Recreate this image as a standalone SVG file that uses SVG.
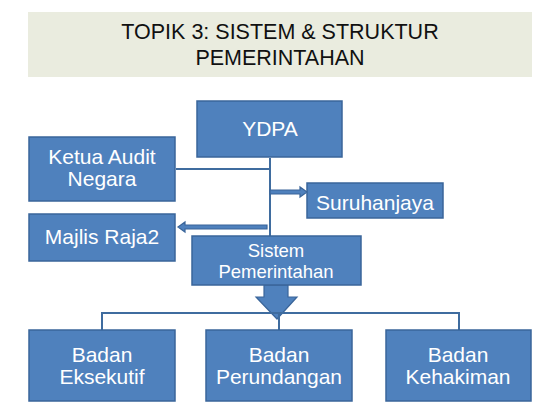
<svg xmlns="http://www.w3.org/2000/svg" width="560" height="420" viewBox="0 0 560 420">
<style>
.box{fill:#4f81bd;stroke:#3a659a;stroke-width:1.5}
.t{font-family:"Liberation Sans",Arial,sans-serif;fill:#ffffff;text-anchor:middle;font-size:21px}
.s{font-size:18.5px}
.ln{fill:none;stroke:#3f6c9f;stroke-width:2}
.arr{fill:#4f81bd;stroke:#3a659a;stroke-width:1.2}
.title{font-family:"Liberation Sans",Arial,sans-serif;fill:#111111;text-anchor:middle;font-size:21.5px}
</style>
<rect width="560" height="420" fill="#ffffff"/>
<g id="title">
<rect x="28" y="12" width="504" height="65" fill="#eaecdf"/>
<text class="title" x="280" y="39">TOPIK 3: SISTEM &amp; STRUKTUR</text>
<text class="title" x="280" y="65">PEMERINTAHAN</text>
</g>
<g id="connectors">
<path class="ln" d="M270 158 V236"/>
<path class="ln" d="M176 169 H270"/>
<path class="arr" d="M270 190 H300 V187 L307 192 L300 197 V194 H270 Z"/>
<path class="arr" d="M267 225 H185 V222 L178 227 L185 232 V229 H267 Z"/>
<path class="arr" d="M264 285 H288 V297 H297 L277 319 L256 297 H264 Z"/>
<path class="ln" d="M102 330 V313 H459 V330 M279 313 V330"/>
</g>
<g id="ydpa">
<rect class="box" x="197" y="101" width="145" height="56"/>
<text class="t" x="270" y="136">YDPA</text>
</g>
<g id="ketua-audit-negara">
<rect class="box" x="29" y="137" width="146" height="64"/>
<text class="t" x="102" y="164">Ketua Audit</text>
<text class="t" x="102" y="186">Negara</text>
</g>
<g id="suruhanjaya">
<rect class="box" x="307" y="183" width="136" height="35"/>
<text class="t" x="375" y="210">Suruhanjaya</text>
</g>
<g id="majlis-raja2">
<rect class="box" x="29" y="214" width="146" height="47"/>
<text class="t" x="102" y="244">Majlis Raja2</text>
</g>
<g id="sistem-pemerintahan">
<rect class="box" x="192" y="236" width="169" height="49"/>
<text class="t s" x="276" y="257">Sistem</text>
<text class="t s" x="276" y="278">Pemerintahan</text>
</g>
<g id="badan-eksekutif">
<rect class="box" x="29" y="330" width="146" height="71"/>
<text class="t" x="102" y="362">Badan</text>
<text class="t" x="102" y="384">Eksekutif</text>
</g>
<g id="badan-perundangan">
<rect class="box" x="206" y="330" width="146" height="71"/>
<text class="t" x="279" y="362">Badan</text>
<text class="t" x="279" y="384">Perundangan</text>
</g>
<g id="badan-kehakiman">
<rect class="box" x="386" y="330" width="145" height="71"/>
<text class="t" x="458" y="362">Badan</text>
<text class="t" x="458" y="384">Kehakiman</text>
</g>
</svg>
